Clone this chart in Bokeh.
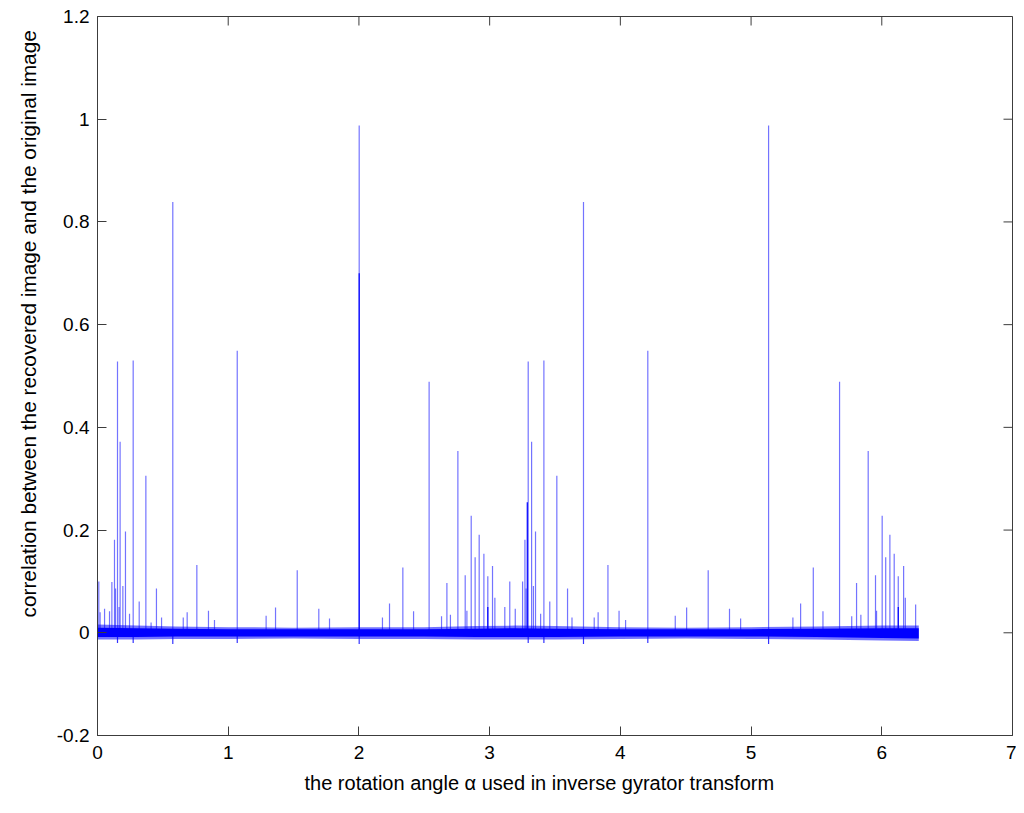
from bokeh.plotting import figure
from bokeh.models import Range1d, FixedTicker, Title
from bokeh.embed import file_html
from bokeh.resources import INLINE

# ---- data ----
spike_alpha = [0.01, 0.02, 0.054, 0.092, 0.11, 0.13, 0.138, 0.153, 0.165, 0.173, 0.194, 0.214,
               0.245, 0.273, 0.319, 0.370, 0.41, 0.451, 0.49, 0.576, 0.656, 0.686, 0.760, 0.849,
               0.895, 1.069, 1.29, 1.362, 1.528, 1.693, 1.775, 2.002, 2.18, 2.234, 2.336, 2.418,
               2.537, 2.632, 2.673, 2.70, 2.757, 2.813, 2.826, 2.859, 2.889, 2.920, 2.956, 2.986,
               3.022, 3.04, 3.116, 3.154, 3.196, 3.252, 3.27, 3.279, 3.295, 3.321, 3.335, 3.351,
               3.39, 3.415, 3.46, 3.514, 3.596, 3.63, 3.718, 3.80, 3.83, 3.905, 3.99, 4.04, 4.21,
               4.42, 4.507, 4.672, 4.835, 4.92, 5.134, 5.32, 5.379, 5.476, 5.55, 5.677, 5.77,
               5.807, 5.84, 5.896, 5.952, 5.96, 6.003, 6.03, 6.062, 6.095, 6.126, 6.167, 6.18,
               6.259]
spike_corr = [0.100, 0.040, 0.047, 0.042, 0.099, 0.181, 0.086, 0.528, 0.050, 0.372, 0.091, 0.197,
              0.037, 0.530, 0.061, 0.306, 0.020, 0.086, 0.030, 0.839, 0.030, 0.040, 0.132, 0.043,
              0.025, 0.549, 0.033, 0.049, 0.122, 0.047, 0.028, 0.988, 0.030, 0.057, 0.127, 0.042,
              0.489, 0.032, 0.097, 0.035, 0.354, 0.112, 0.043, 0.228, 0.147, 0.191, 0.154, 0.110,
              0.130, 0.068, 0.050, 0.100, 0.047, 0.100, 0.181, 0.086, 0.528, 0.372, 0.091, 0.197,
              0.037, 0.530, 0.061, 0.306, 0.086, 0.030, 0.839, 0.030, 0.040, 0.132, 0.043, 0.025,
              0.549, 0.033, 0.049, 0.122, 0.047, 0.028, 0.988, 0.030, 0.057, 0.127, 0.042, 0.489,
              0.032, 0.097, 0.035, 0.354, 0.112, 0.043, 0.228, 0.147, 0.191, 0.154, 0.110, 0.130,
              0.068, 0.055]

dark_alpha = [2.002, 3.288, 2.986, 6.126]
dark_corr = [0.700, 0.254, 0.050, 0.050]

dip_alpha = [0.153, 0.273, 0.576, 1.069, 2.002, 3.295, 3.415, 3.718, 4.21, 5.134]
dip_corr = [-0.020, -0.020, -0.022, -0.020, -0.022, -0.020, -0.020, -0.022, -0.020, -0.022]

band_alpha = [0.0, 0.3, 0.6, 1.0, 1.5, 2.0, 2.5, 2.9, 3.2, 3.5, 4.0, 4.5, 5.0, 5.5, 6.0, 6.283]
band_outer_up = [0.016, 0.014, 0.012, 0.011, 0.010, 0.011, 0.011, 0.013, 0.014, 0.013, 0.011, 0.010, 0.011, 0.012, 0.014, 0.014]
band_outer_lo = [-0.013, -0.013, -0.012, -0.012, -0.011, -0.012, -0.012, -0.013, -0.013, -0.013, -0.012, -0.011, -0.012, -0.013, -0.015, -0.016]
band_inner_up = [0.010, 0.009, 0.008, 0.007, 0.007, 0.007, 0.007, 0.008, 0.009, 0.008, 0.007, 0.007, 0.007, 0.008, 0.009, 0.009]
band_inner_lo = [-0.008, -0.008, -0.007, -0.007, -0.007, -0.007, -0.007, -0.008, -0.008, -0.008, -0.007, -0.007, -0.007, -0.008, -0.010, -0.011]

x_ticks = [0, 1, 2, 3, 4, 5, 6, 7]
x_tick_labels = ["0", "1", "2", "3", "4", "5", "6", "7"]
y_ticks = [-0.2, 0.0, 0.2, 0.4, 0.6, 0.8, 1.0, 1.2]
y_tick_labels = ["-0.2", "0", "0.2", "0.4", "0.6", "0.8", "1", "1.2"]

x_title = "the rotation angle α used in inverse gyrator transform"
y_title = "correlation between the recovered image and the original image"

FONT = "Liberation Sans"
AXC = "#3c3c3c"
BLUE = "#0000ff"

X0, X1, Y0, Y1 = 0, 7, -0.2, 1.2
FW, FH = 915, 719          # frame size in px
TICK = 9                   # tick length in px

p = figure(width=97 + FW + 4, height=16 + FH + 70, output_backend="svg", toolbar_location=None,
           x_range=Range1d(X0, X1), y_range=Range1d(Y0, Y1),
           min_border_left=97, min_border_right=4, min_border_top=16, min_border_bottom=70)
p.background_fill_color = "white"
p.border_fill_color = "white"
p.xgrid.visible = False
p.ygrid.visible = False
p.outline_line_color = AXC
p.outline_line_width = 1

p.varea(x=band_alpha, y1=band_outer_lo, y2=band_outer_up, fill_color=BLUE, fill_alpha=0.55)
p.varea(x=band_alpha, y1=band_inner_lo, y2=band_inner_up, fill_color=BLUE, fill_alpha=1.0)
p.segment(x0=spike_alpha, y0=[0] * len(spike_alpha), x1=spike_alpha, y1=spike_corr,
          line_color=BLUE, line_alpha=0.55, line_width=1.2)
p.segment(x0=dark_alpha, y0=[0] * len(dark_alpha), x1=dark_alpha, y1=dark_corr,
          line_color=BLUE, line_alpha=1.0, line_width=1.2)
p.segment(x0=dip_alpha, y0=[0] * len(dip_alpha), x1=dip_alpha, y1=dip_corr,
          line_color=BLUE, line_alpha=0.8, line_width=1.2)

# mirrored tick marks on the top and right edges of the box
dy = (Y1 - Y0) / FH * TICK
dx = (X1 - X0) / FW * TICK
p.segment(x0=x_ticks, y0=[Y1] * len(x_ticks), x1=x_ticks, y1=[Y1 - dy] * len(x_ticks),
          line_color=AXC, line_width=1)
p.segment(x0=[X1] * len(y_ticks), y0=y_ticks, x1=[X1 - dx] * len(y_ticks), y1=y_ticks,
          line_color=AXC, line_width=1)

for ax in (p.xaxis[0], p.yaxis[0]):
    ax.axis_line_color = AXC
    ax.major_tick_line_color = AXC
    ax.minor_tick_line_color = None
    ax.major_tick_in = TICK
    ax.major_tick_out = 0
    ax.major_label_text_font = FONT
    ax.major_label_text_color = "black"
    ax.major_label_text_font_size = "19px"

p.xaxis.ticker = FixedTicker(ticks=x_ticks)
p.yaxis.ticker = FixedTicker(ticks=y_ticks)
p.xaxis.major_label_overrides = {t: s for t, s in zip(x_ticks, x_tick_labels)}
p.yaxis.major_label_overrides = {t: s for t, s in zip(y_ticks, y_tick_labels)}
p.xaxis.major_label_standoff = 10
p.yaxis.major_label_standoff = 8

p.add_layout(Title(text=x_title, text_font=FONT, text_font_size="20px",
                   text_font_style="normal", text_color="black", align="left",
                   offset=207, standoff=17), "below")
p.add_layout(Title(text=y_title, text_font=FONT, text_font_size="20.8px",
                   text_font_style="normal", text_color="black", align="left",
                   offset=118, standoff=28), "left")

open("out.html", "w").write(file_html(p, INLINE))
